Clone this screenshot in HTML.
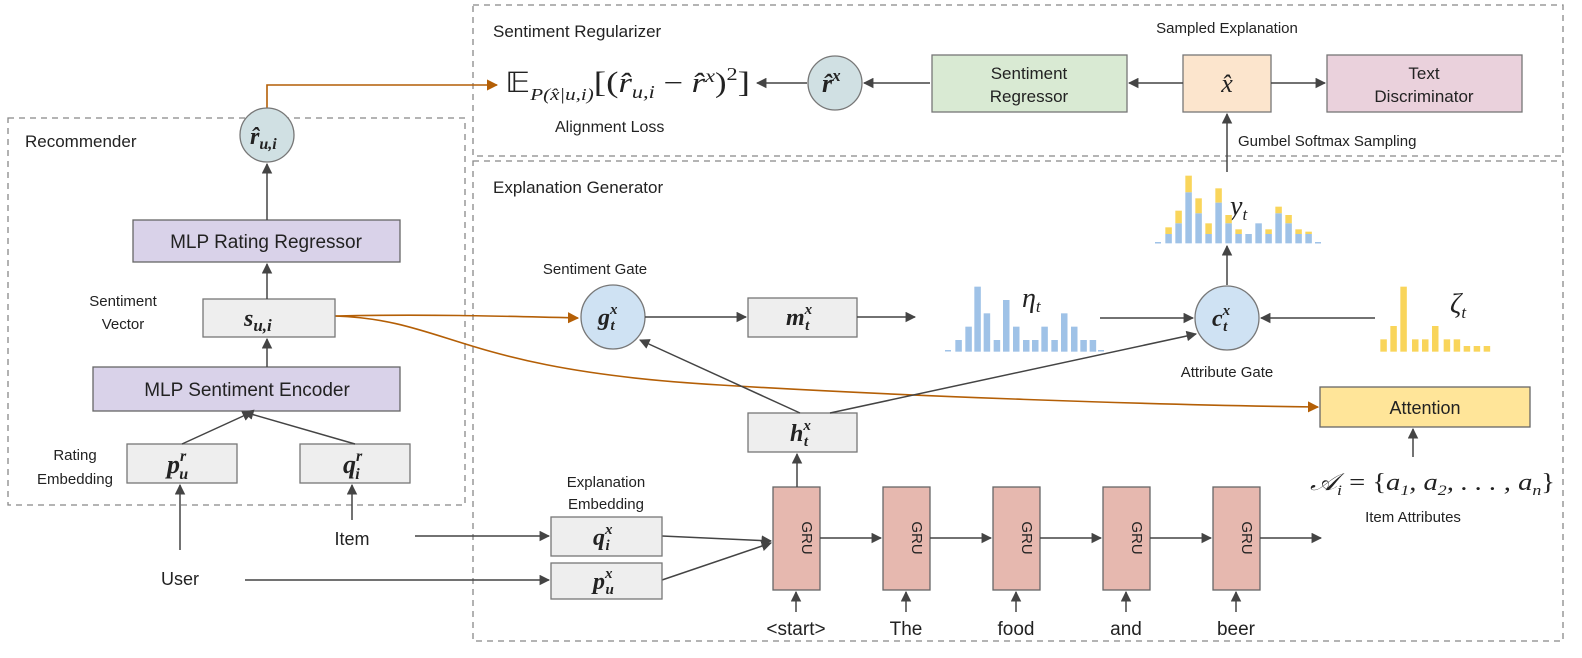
<!DOCTYPE html>
<html><head><meta charset="utf-8"><style>
body{margin:0;background:#fff}
svg{display:block}
text{font-family:"Liberation Sans",sans-serif;fill:#222}
.m{font-family:"Liberation Serif",serif;font-style:italic}
</style></head><body>
<svg id="s" width="1582" height="658" viewBox="0 0 1582 658" xmlns="http://www.w3.org/2000/svg">
<defs>
<marker id="a" viewBox="0 0 10 10" refX="9" refY="5" markerWidth="7" markerHeight="7" orient="auto-start-reverse"><path d="M0,0L10,5L0,10z" fill="#444"/></marker>
<marker id="o" viewBox="0 0 10 10" refX="9" refY="5" markerWidth="7" markerHeight="7" orient="auto"><path d="M0,0L10,5L0,10z" fill="#b45f06"/></marker>
</defs>
<g fill="none" stroke="#888" stroke-width="1.3" stroke-dasharray="6,5">
<rect x="473" y="5" width="1090" height="151"/>
<rect x="473" y="161" width="1090" height="480"/>
<rect x="8" y="118" width="457" height="387"/>
</g>
<text x="493" y="37" font-size="17">Sentiment Regularizer</text>
<text x="493" y="193" font-size="17">Explanation Generator</text>
<text x="25" y="147" font-size="17">Recommender</text>

<!-- regularizer -->
<text x="505" y="92" font-size="28" class="m" style="font-style:normal" textLength="245" lengthAdjust="spacingAndGlyphs">𝔼<tspan font-size="17" dy="8" font-style="italic">P(x̂|u,i)</tspan><tspan dy="-8" font-size="30">[(</tspan><tspan font-style="italic">r̂</tspan><tspan font-size="18" dy="6" font-style="italic">u,i</tspan><tspan dy="-6"> − </tspan><tspan font-style="italic">r̂</tspan><tspan font-size="18" dy="-10" font-style="italic">x</tspan><tspan dy="10">)</tspan><tspan font-size="18" dy="-12">2</tspan><tspan dy="12" font-size="30">]</tspan></text>
<text x="555" y="132" font-size="16">Alignment Loss</text>
<circle cx="835" cy="83" r="27" fill="#d0e0e3" stroke="#777" stroke-width="1.3"/>
<text x="822" y="92" font-size="26" class="m" font-weight="bold">r̂<tspan font-size="17" dy="-11">x</tspan></text>
<rect x="932" y="55" width="195" height="57" fill="#d9ead3" stroke="#777" stroke-width="1.3"/>
<text x="1029" y="79" font-size="17" text-anchor="middle">Sentiment</text>
<text x="1029" y="102" font-size="17" text-anchor="middle">Regressor</text>
<rect x="1183" y="55" width="88" height="57" fill="#fce5cd" stroke="#777" stroke-width="1.3"/>
<text x="1227" y="92" font-size="26" class="m" text-anchor="middle">x̂</text>
<rect x="1327" y="55" width="195" height="57" fill="#ead1dc" stroke="#777" stroke-width="1.3"/>
<text x="1424" y="79" font-size="17" text-anchor="middle">Text</text>
<text x="1424" y="102" font-size="17" text-anchor="middle">Discriminator</text>
<text x="1227" y="33" font-size="15" text-anchor="middle">Sampled Explanation</text>
<text x="1238" y="146" font-size="15">Gumbel Softmax Sampling</text>

<g stroke="#444" stroke-width="1.5" fill="none" marker-end="url(#a)">
<line x1="1183" y1="83" x2="1129" y2="83"/>
<line x1="930" y1="83" x2="864" y2="83"/>
<line x1="807" y1="83" x2="757" y2="83"/>
<line x1="1271" y1="83" x2="1325" y2="83"/>
<line x1="1227" y1="172" x2="1227" y2="114"/>
</g>
<g stroke="#b45f06" stroke-width="1.6" fill="none">
<path d="M267,108V85H497" marker-end="url(#o)"/>
<path d="M335,316C420,314 500,316 578,318" marker-end="url(#o)"/>
<path d="M335,316C450,320 460,370 720,385C900,396 1150,405 1318,407" marker-end="url(#o)"/>
</g>

<!-- recommender -->
<circle cx="267" cy="135" r="27" fill="#d0e0e3" stroke="#777" stroke-width="1.3"/>
<text x="250" y="144" font-size="24" class="m" font-weight="bold">r̂<tspan font-size="16" dy="5">u,i</tspan></text>
<rect x="133" y="220" width="267" height="42" fill="#d9d2e9" stroke="#666" stroke-width="1.3"/>
<text x="266" y="248" font-size="19" text-anchor="middle">MLP Rating Regressor</text>
<rect x="203" y="299" width="132" height="38" fill="#eee" stroke="#777" stroke-width="1.3"/>
<text x="244" y="326" font-size="24" class="m" font-weight="bold">s<tspan font-size="17" dy="5">u,i</tspan></text>
<text x="123" y="306" font-size="15" text-anchor="middle">Sentiment</text>
<text x="123" y="329" font-size="15" text-anchor="middle">Vector</text>
<rect x="93" y="367" width="307" height="44" fill="#d9d2e9" stroke="#666" stroke-width="1.3"/>
<text x="247" y="396" font-size="19" text-anchor="middle">MLP Sentiment Encoder</text>
<rect x="127" y="444" width="110" height="39" fill="#eee" stroke="#777" stroke-width="1.3"/>
<text x="167" y="473" font-size="26" class="m" font-weight="bold">p<tspan font-size="16" dy="-12">r</tspan><tspan font-size="16" dx="-7" dy="18">u</tspan></text>
<rect x="300" y="444" width="110" height="39" fill="#eee" stroke="#777" stroke-width="1.3"/>
<text x="343" y="473" font-size="26" class="m" font-weight="bold">q<tspan font-size="16" dy="-12">r</tspan><tspan font-size="16" dx="-7" dy="18">i</tspan></text>
<text x="75" y="460" font-size="15" text-anchor="middle">Rating</text>
<text x="75" y="484" font-size="15" text-anchor="middle">Embedding</text>
<text x="180" y="585" font-size="18" text-anchor="middle">User</text>
<text x="352" y="545" font-size="18" text-anchor="middle">Item</text>
<g stroke="#444" stroke-width="1.5" fill="none" marker-end="url(#a)">
<line x1="267" y1="220" x2="267" y2="164"/>
<line x1="267" y1="299" x2="267" y2="264"/>
<line x1="267" y1="367" x2="267" y2="339"/>
<line x1="182" y1="444" x2="252" y2="412"/>
<line x1="355" y1="444" x2="244" y2="412"/>
<line x1="180" y1="550" x2="180" y2="485"/>
<line x1="352" y1="520" x2="352" y2="485"/>
<line x1="415" y1="536" x2="549" y2="536"/>
<line x1="245" y1="580" x2="549" y2="580"/>
<line x1="662" y1="536" x2="771" y2="541"/>
<line x1="662" y1="580" x2="771" y2="543"/>
</g>

<!-- generator -->
<text x="606" y="487" font-size="15" text-anchor="middle">Explanation</text>
<text x="606" y="509" font-size="15" text-anchor="middle">Embedding</text>
<rect x="551" y="517" width="111" height="39" fill="#eee" stroke="#777" stroke-width="1.3"/>
<text x="593" y="545" font-size="24" class="m" font-weight="bold">q<tspan font-size="15" dy="-11">x</tspan><tspan font-size="15" dx="-7" dy="16">i</tspan></text>
<rect x="551" y="563" width="111" height="36" fill="#eee" stroke="#777" stroke-width="1.3"/>
<text x="593" y="589" font-size="24" class="m" font-weight="bold">p<tspan font-size="15" dy="-11">x</tspan><tspan font-size="15" dx="-7" dy="16">u</tspan></text>
<rect x="748" y="413" width="109" height="39" fill="#eee" stroke="#777" stroke-width="1.3"/>
<text x="790" y="441" font-size="24" class="m" font-weight="bold">h<tspan font-size="15" dy="-11">x</tspan><tspan font-size="15" dx="-7" dy="16">t</tspan></text>
<g id="grus"></g>
<circle cx="613" cy="317" r="32" fill="#cfe2f3" stroke="#777" stroke-width="1.3"/>
<text x="598" y="325" font-size="24" class="m" font-weight="bold">g<tspan font-size="15" dy="-11">x</tspan><tspan font-size="15" dx="-7" dy="16">t</tspan></text>
<text x="595" y="274" font-size="15" text-anchor="middle">Sentiment Gate</text>
<rect x="748" y="298" width="109" height="39" fill="#eee" stroke="#777" stroke-width="1.3"/>
<text x="786" y="325" font-size="24" class="m" font-weight="bold">m<tspan font-size="15" dy="-11">x</tspan><tspan font-size="15" dx="-7" dy="16">t</tspan></text>
<circle cx="1227" cy="318" r="32" fill="#cfe2f3" stroke="#777" stroke-width="1.3"/>
<text x="1212" y="326" font-size="24" class="m" font-weight="bold">c<tspan font-size="15" dy="-11">x</tspan><tspan font-size="15" dx="-7" dy="16">t</tspan></text>
<text x="1227" y="377" font-size="15" text-anchor="middle">Attribute Gate</text>
<rect x="1320" y="387" width="210" height="40" fill="#ffe599" stroke="#666" stroke-width="1.3"/>
<text x="1425" y="414" font-size="18" text-anchor="middle">Attention</text>
<text x="1310" y="490" font-size="24" class="m" textLength="245" lengthAdjust="spacingAndGlyphs">𝒜<tspan font-size="15" dy="5">i</tspan><tspan dy="-5" font-style="normal"> = {</tspan>a<tspan font-size="15" dy="5">1</tspan><tspan dy="-5">, </tspan>a<tspan font-size="15" dy="5">2</tspan><tspan dy="-5">, . . . , </tspan>a<tspan font-size="15" dy="5">n</tspan><tspan dy="-5" font-style="normal">}</tspan></text>
<text x="1413" y="522" font-size="15" text-anchor="middle">Item Attributes</text>
<text x="1230" y="215" font-size="28" class="m">y<tspan font-size="17" dy="5">t</tspan></text>
<text x="1022" y="307" font-size="28" class="m">η<tspan font-size="17" dy="5">t</tspan></text>
<text x="1450" y="313" font-size="28" class="m">ζ<tspan font-size="17" dy="5">t</tspan></text>
<g id="bars"></g>
<g stroke="#444" stroke-width="1.5" fill="none" marker-end="url(#a)">
<line x1="797" y1="487" x2="797" y2="454"/>
<line x1="800" y1="413" x2="640" y2="340"/>
<line x1="830" y1="413" x2="1196" y2="334"/>
<line x1="645" y1="317" x2="746" y2="317"/>
<line x1="857" y1="317" x2="915" y2="317"/>
<line x1="1100" y1="318" x2="1193" y2="318"/>
<line x1="1375" y1="318" x2="1261" y2="318"/>
<line x1="1227" y1="285" x2="1227" y2="246"/>
<line x1="1413" y1="457" x2="1413" y2="429"/>
</g>
</svg>
<script>
const NS="http://www.w3.org/2000/svg",S=document.getElementById('s');
function el(t,a,p){const e=document.createElementNS(NS,t);for(const k in a)e.setAttribute(k,a[k]);(p||S).appendChild(e);return e;}
const G=document.getElementById('grus');
const words=["<start>","The","food","and","beer"];
for(let i=0;i<5;i++){const x=773+i*110;
el('rect',{x:x,y:487,width:47,height:103,fill:"#e6b8af",stroke:"#666","stroke-width":1.3},G);
const t=el('text',{x:0,y:0,"font-size":15,"text-anchor":"middle",transform:`translate(${x+29},538) rotate(90)`},G);t.textContent="GRU";
const w=el('text',{x:x+23,y:635,"font-size":19,"text-anchor":"middle"},G);w.textContent=words[i];
el('line',{x1:x+23,y1:612,x2:x+23,y2:592,stroke:"#444","stroke-width":1.5,"marker-end":"url(#a)"},G);
el('line',{x1:x+47,y1:538,x2:x+108,y2:538,stroke:"#444","stroke-width":1.5,"marker-end":"url(#a)"},G);}
const B=document.getElementById('bars');
const yx=[115,145,175,205,235,265,295,325,355,385,415,445,475,505,535],yy=[202,152,47,115,190,85,165,208,222,190,208,140,165,208,215],yb=[222,190,97,160,222,128,190,222,222,190,222,160,190,222,222];
for(let i=0;i<15;i++){const x=1130+yx[i]/3-3;el('rect',{x:x,y:160+yy[i]/3,width:6.5,height:(yb[i]-yy[i])/3,fill:"#f9d55b"},B);el('rect',{x:x,y:160+yb[i]/3,width:6.5,height:(250-yb[i])/3,fill:"#9fc2e7"},B);}
el('rect',{x:1155,y:242,width:6,height:1.5,fill:"#9fc2e7"},B);el('rect',{x:1315,y:242,width:6,height:1.5,fill:"#9fc2e7"},B);
const ex=[115,145,172,200,230,258,288,318,345,373,403,432,462,490,518],et=[210,170,50,130,210,90,170,210,210,170,210,130,170,210,210];
for(let i=0;i<15;i++)el('rect',{x:920+ex[i]/3-3,y:270+et[i]/3,width:6.5,height:(245-et[i])/3,fill:"#9fc2e7"},B);
el('rect',{x:945,y:350,width:6,height:1.5,fill:"#9fc2e7"},B);el('rect',{x:1098,y:350,width:6,height:1.5,fill:"#9fc2e7"},B);
const zx=[760,790,820,855,885,915,950,980,1010,1040,1070],zt=[538,498,380,538,538,498,538,538,558,558,558];
for(let i=0;i<11;i++)el('rect',{x:1130+zx[i]/3-3,y:160+zt[i]/3,width:6.5,height:(575-zt[i])/3,fill:"#f9d55b"},B);
</script>
</body></html>
